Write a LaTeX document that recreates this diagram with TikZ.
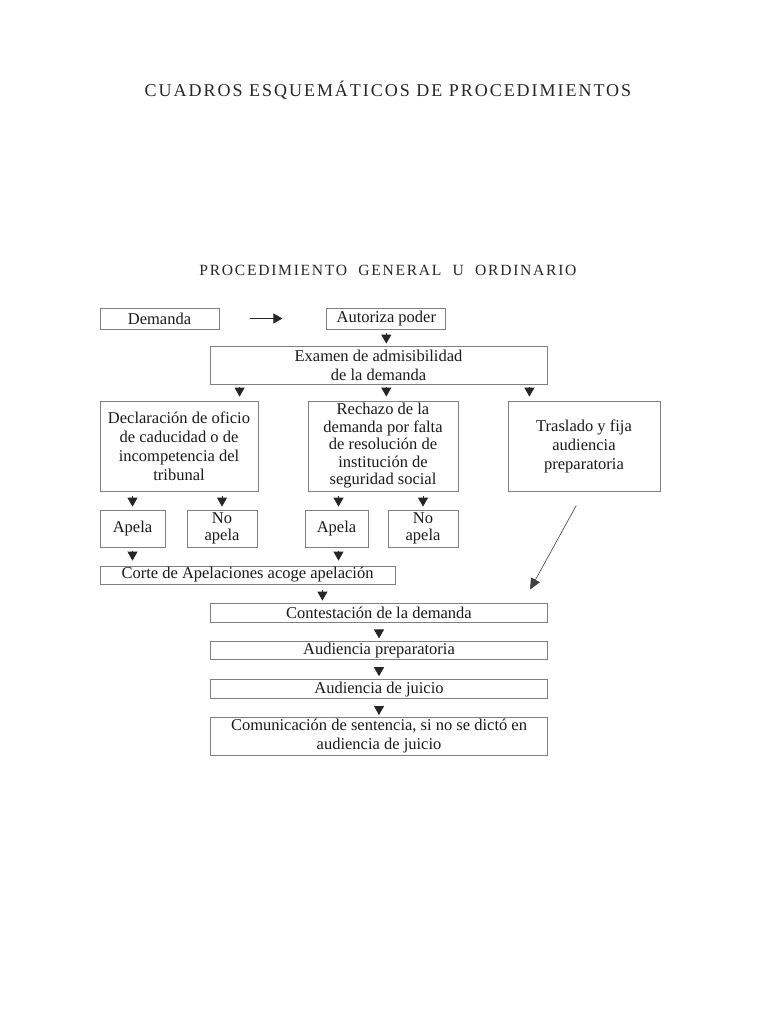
\documentclass[tikz,border=0pt]{standalone}
\usepackage{fontspec}
\setmainfont{Liberation Serif}
\newfontfamily\headfont[LetterSpace=11]{Liberation Serif}
\usetikzlibrary{arrows.meta,positioning}

\tikzset{
  box/.style={draw=black!50, line width=0.8pt, inner sep=0pt, align=center,
    text=black!90, font=\fontsize{16.5}{19}\selectfont},
  tight/.style={font=\fontsize{16.5}{17.5}\selectfont},
  head/.style={text=black!85, font=\headfont\fontsize{18}{20}\selectfont},
  arr/.style={line width=0.8pt, draw=black!85,
    -{Triangle[width=10pt,length=9pt]}},
  diag/.style={line width=0.6pt, draw=black!75,
    -{Triangle[width=10pt,length=11pt]}},
}

\begin{document}
\begin{tikzpicture}[x=1pt,y=-1pt]
  \useasboundingbox (0,0) rectangle (768,1024);

  \node[head] (t1) at (388,90) {CUADROS ESQUEMÁTICOS DE PROCEDIMIENTOS};
  \node[head, font=\headfont\fontsize{15.6}{20}\selectfont] (t2) at (388,270) {PROCEDIMIENTO\ \ GENERAL\ \ U\ \ ORDINARIO};

  \node[box, minimum width=119pt, minimum height=21pt] (dem) at (159.5,318.5) {Demanda};
  \node[box, minimum width=119pt, minimum height=21pt, right=107pt of dem] (aut) {Autoriza poder};
  \node[box, minimum width=337pt, minimum height=38pt] (exa) at (378.5,365) {Examen de admisibilidad\\de la demanda};

  \node[box, minimum width=158pt, minimum height=90pt] (dec) at (179,446)
    {Declaración de oficio\\de caducidad o de\\incompetencia del\\tribunal};
  \node[box, tight, minimum width=150pt, minimum height=90pt] (rec) at (383,446)
    {Rechazo de la\\demanda por falta\\de resolución de\\institución de\\seguridad social};
  \node[box, minimum width=152pt, minimum height=90pt] (tra) at (584,446)
    {Traslado y fija\\audiencia\\preparatoria};

  \node[box, minimum width=65pt, minimum height=37pt] (ap1) at (132.5,528.5) {Apela};
  \node[box, tight, minimum width=70pt, minimum height=37pt] (na1) at (222,528.5) {No\\apela};
  \node[box, minimum width=63pt, minimum height=37pt] (ap2) at (336.5,528.5) {Apela};
  \node[box, tight, minimum width=70pt, minimum height=37pt] (na2) at (423,528.5) {No\\apela};

  \node[box, minimum width=295pt, minimum height=18pt] (cor) at (247.5,575) {Corte de Apelaciones acoge apelación};

  \node[box, minimum width=337pt, minimum height=19pt] (con) at (379,612.5) {Contestación de la demanda};
  \node[box, minimum width=337pt, minimum height=18pt, below=19pt of con] (apr) {Audiencia preparatoria};
  \node[box, minimum width=337pt, minimum height=19pt, below=19pt of apr] (aju) {Audiencia de juicio};
  \node[box, minimum width=337pt, minimum height=38pt, below=18pt of aju] (com)
    {Comunicación de sentencia, si no se dictó en\\audiencia de juicio};

  \draw[arr, shorten <=31pt, shorten >=44pt] (dem) -- (aut);
  \draw[arr, shorten <=4pt, shorten >=2pt] (aut) -- (aut |- exa.north);
  \draw[arr, shorten <=3pt, shorten >=4pt] ([xshift=30pt]exa.south west) -- ([xshift=30pt]exa.south west |- dec.north);
  \draw[arr, shorten <=3pt, shorten >=4pt] (exa.south -| aut) -- (aut |- rec.north);
  \draw[arr, shorten <=3pt, shorten >=4pt] ([xshift=-18pt]exa.south east) -- ([xshift=-18pt]exa.south east |- tra.north);

  \draw[arr, shorten <=5pt, shorten >=3pt] (ap1 |- dec.south) -- (ap1);
  \draw[arr, shorten <=5pt, shorten >=3pt] (na1 |- dec.south) -- (na1);
  \draw[arr, shorten <=5pt, shorten >=3pt] ([xshift=2pt]ap2 |- rec.south) -- ([xshift=2pt]ap2.north);
  \draw[arr, shorten <=5pt, shorten >=3pt] (na2 |- rec.south) -- (na2);

  \draw[arr, shorten <=4pt, shorten >=5pt] (ap1) -- (ap1 |- cor.north);
  \draw[arr, shorten <=4pt, shorten >=5pt] ([xshift=2pt]ap2.south) -- ([xshift=2pt]ap2.south |- cor.north);

  \draw[arr, shorten <=6pt, shorten >=2pt] ([xshift=-73pt]cor.south east) -- ([xshift=-73pt]cor.south east |- con.north);
  \draw[diag, shorten <=16pt, shorten >=15pt] (tra.south) -- ([xshift=-25pt]con.north east);

  \draw[arr, shorten <=8pt, shorten >=3pt] (con) -- (apr);
  \draw[arr, shorten <=8pt, shorten >=3pt] (apr) -- (aju);
  \draw[arr, shorten <=8pt, shorten >=2pt] (aju) -- (com);
\end{tikzpicture}
\end{document}
